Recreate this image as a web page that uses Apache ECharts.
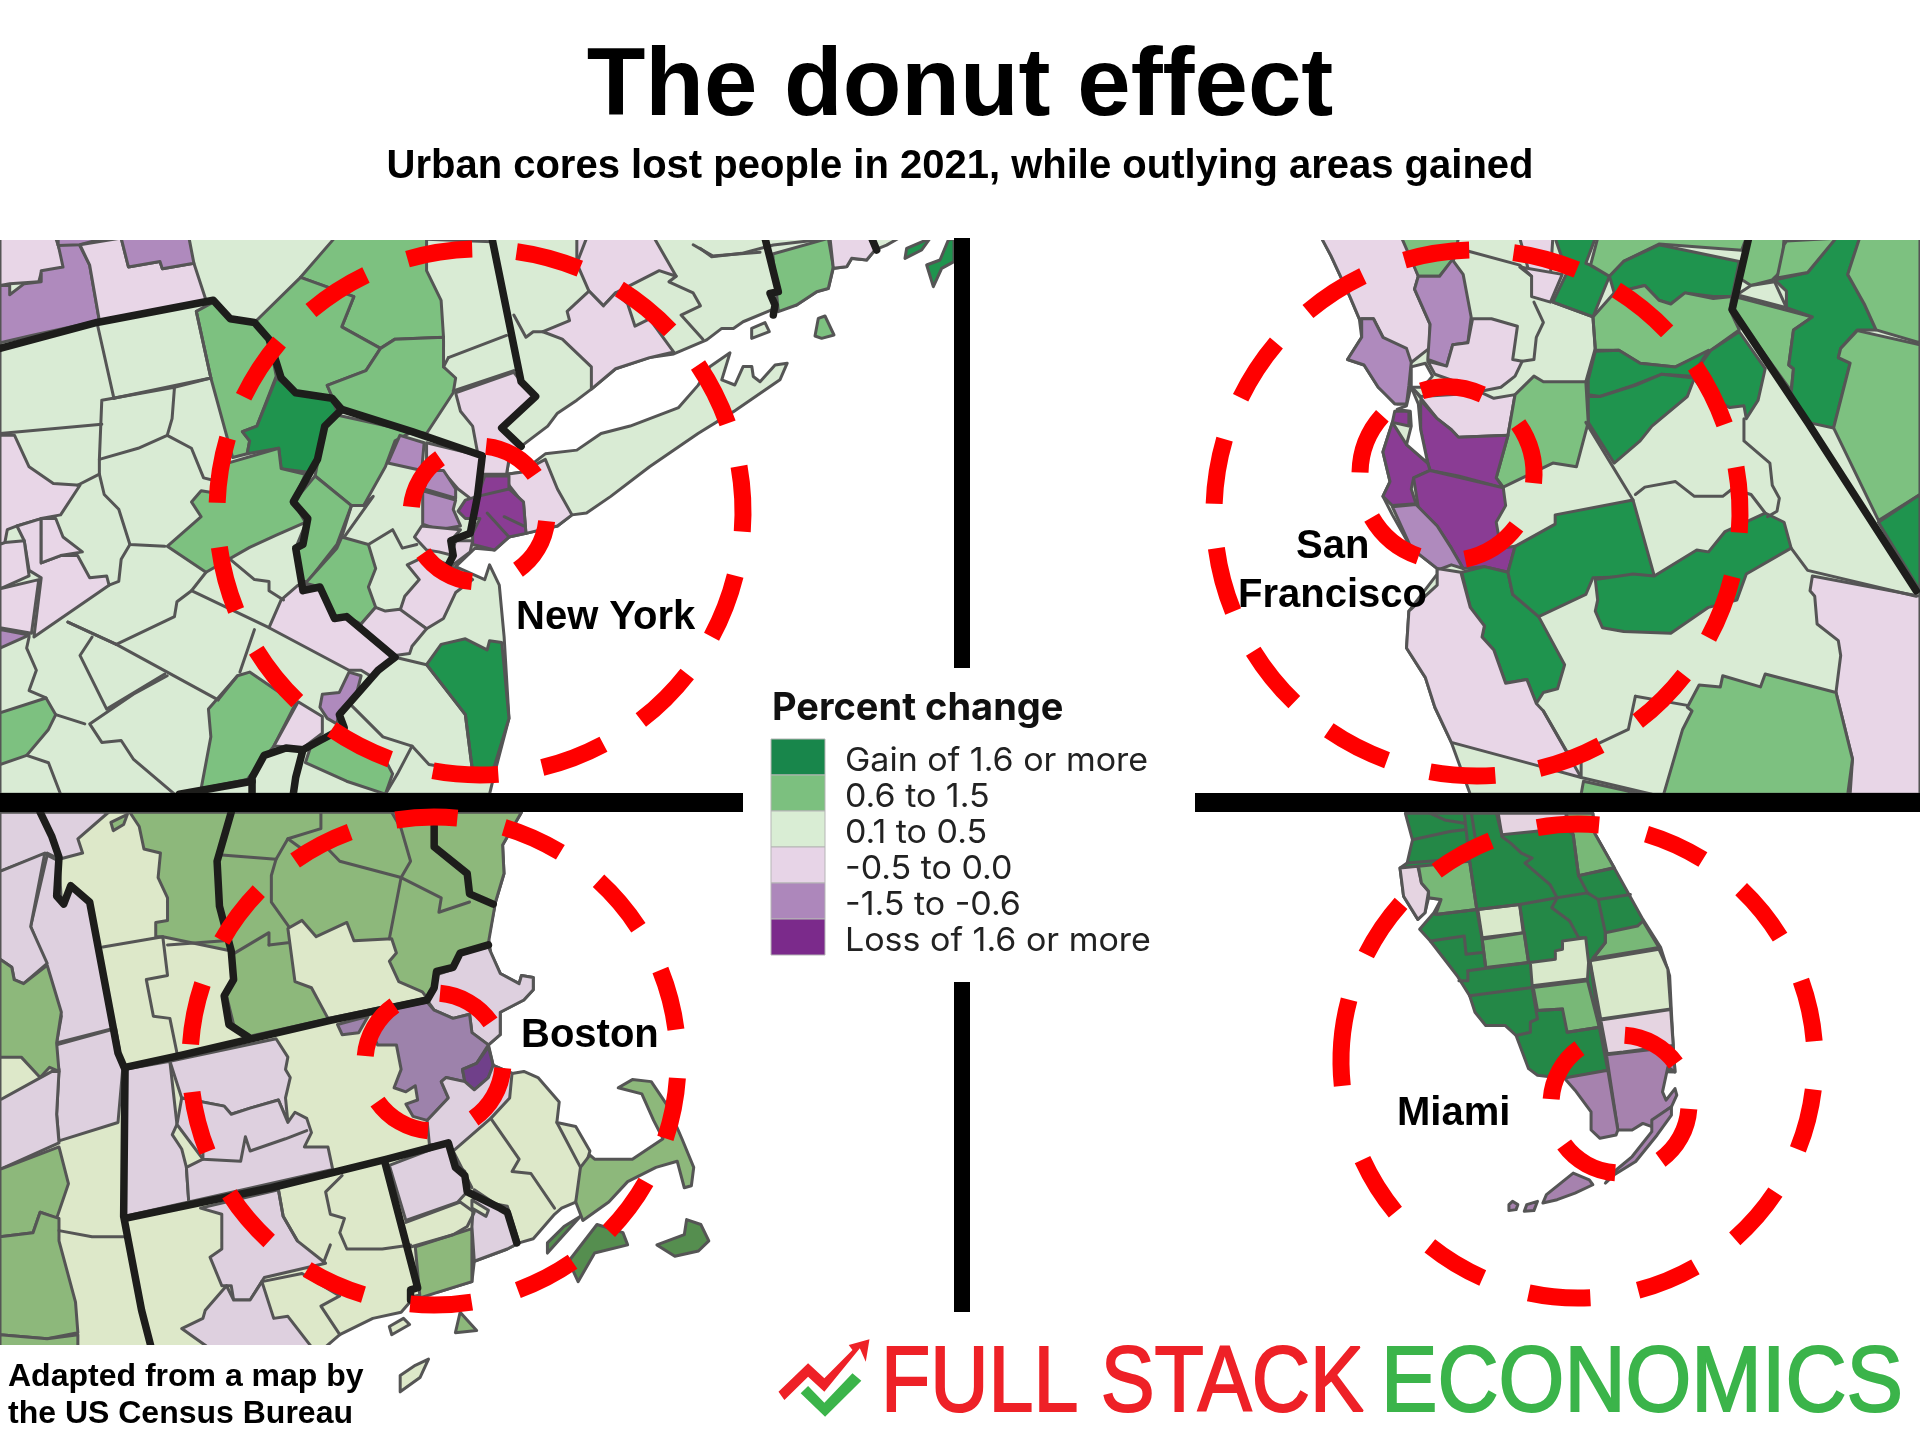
<!DOCTYPE html>
<html>
<head>
	<meta charset="utf-8">
	<title>The donut effect</title>
	<style type="text/css">
		html, body { margin: 0; padding: 0; background: #fff; }
		#chart { width: 1920px; height: 1440px; }
	</style>
</head>
<body>
	<div id="chart"></div>
	<script src="https://cdn.jsdelivr.net/npm/echarts@6/dist/echarts.min.js"></script>
	<script type="text/javascript">
		// legend classes, index is the class used by the county lists below
		var legendLabels = ['Gain of 1.6 or more', '0.6 to 1.5', '0.1 to 0.5', '-0.5 to 0.0', '-1.5 to -0.6', 'Loss of 1.6 or more'];
		var legendColors = ['#18864b', '#7cc07f', '#d9edd4', '#e7d4e7', '#ad87bb', '#7b2a8b'];

		// the map pieces are tinted a bit differently in each panel. class 6 is water
		var nyColors = ['#1f944e', '#7dc180', '#d9ebd4', '#e8d6e7', '#af8abd', '#8a3c94', '#ffffff'];
		var bosColors = ['#558e4f', '#8db87b', '#dde8c9', '#ded0df', '#9d82ab', '#70408a', '#ffffff'];
		var miaColors = ['#248847', '#78b877', '#d9e9cb', '#e5d4e1', '#a682ae', '#8a3c94', '#ffffff'];

		// counties: [class, [x,y, x,y, ...]]
		var nyLand = [[2, [0,22, 1853,23, 1829,41, 1805,54, 1788,81, 1757,77, 1747,99, 1719,104, 1709,158, 1685,167, 1643,203, 1592,216, 1533,248, 1513,266, 1489,266, 1458,297, 1390,335, 1340,345, 1270,375, 1220,430, 1190,460, 1150,495, 1130,530, 1100,560, 1075,585, 1050,620, 1045,660, 1075,655, 1125,605, 1190,595, 1240,550, 1300,530, 1400,480, 1440,420, 1465,369, 1506,332, 1489,405, 1516,419, 1533,369, 1551,369, 1554,396, 1568,410, 1599,365, 1624,360, 1609,405, 1513,491, 1440,550, 1340,640, 1260,720, 1210,765, 1180,770, 1150,800, 1085,820, 1050,830, 1020,865, 980,860, 940,910, 1000,945, 1010,905, 1030,960, 1040,1100, 1050,1320, 1020,1470, 1010,1525, 0,1525]]];
		var nyCounties = [
			[3, [0,22, 115,22, 135,100, 85,115, 80,140, 20,145, 0,150]],
			[4, [0,150, 20,150, 20,175, 50,145, 85,140, 85,110, 130,100, 120,40, 160,30, 185,95, 205,245, 65,285, 0,305]],
			[4, [120,22, 215,22, 165,40, 120,42]],
			[3, [165,40, 250,22, 265,100, 330,85, 335,105, 400,90, 425,190, 205,245, 185,95]],
			[4, [250,22, 390,22, 400,90, 335,105, 330,85, 265,100]],
			[1, [405,220, 440,195, 475,240, 525,250, 555,295, 570,395, 530,530, 500,545, 515,570, 510,605, 480,615, 435,400]],
			[1, [690,22, 880,22, 880,110, 910,190, 915,290, 815,295, 785,320, 705,262, 730,180, 620,128]],
			[1, [620,128, 730,180, 705,262, 785,320, 755,380, 675,420, 685,450, 610,440, 580,400, 555,295, 525,250]],
			[1, [785,320, 815,295, 915,290, 915,370, 940,400, 935,440, 880,550, 850,545, 705,485, 685,450, 675,420, 755,380]],
			[0, [570,400, 610,440, 685,455, 695,490, 670,530, 655,620, 635,655, 580,645, 575,590, 510,605, 515,570, 500,545, 530,530]],
			[1, [695,500, 850,545, 815,570, 795,640, 750,745, 725,745, 650,665, 670,530]],
			[1, [650,665, 725,745, 695,850, 635,950, 625,950, 610,860, 635,780, 605,735]],
			[1, [470,630, 575,590, 580,645, 630,660, 605,735, 630,790, 570,825, 515,858, 425,925, 345,855, 415,775, 395,735, 415,705, 440,710, 455,640]],
			[1, [705,830, 760,850, 775,915, 760,965, 775,1020, 745,1065, 715,1045, 690,1050, 660,965, 630,955, 695,860]],
			[4, [825,555, 875,575, 870,650, 800,630]],
			[3, [940,440, 1060,385, 1075,410, 1105,450, 1035,535, 1075,585, 1050,620, 1045,660, 995,660, 995,610, 985,600, 975,530, 950,490]],
			[3, [880,575, 995,612, 990,700, 975,730, 945,700, 915,655, 880,640]],
			[3, [1045,660, 1075,655, 1125,620, 1150,700, 1180,770, 1150,800, 1085,820, 1080,740, 1050,690]],
			[5, [1000,665, 1050,665, 1050,700, 1080,735, 1085,820, 1050,830, 1020,865, 975,850, 975,820, 990,780, 960,780, 945,760, 960,730, 985,720]],
			[4, [885,650, 915,650, 940,700, 940,725, 875,700]],
			[4, [872,705, 940,730, 935,755, 950,800, 905,810, 872,795]],
			[3, [870,800, 950,810, 930,840, 935,880, 905,870, 880,865, 855,830]],
			[3, [940,840, 975,840, 970,870, 935,905, 930,880]],
			[3, [840,905, 880,880, 925,905, 975,945, 940,980, 915,1050, 880,1078, 825,1030, 835,990, 865,945]],
			[3, [745,1065, 775,1020, 795,1030, 825,1025, 880,1078, 850,1125, 845,1145, 815,1150, 745,1075]],
			[0, [910,1120, 960,1105, 1005,1135, 1010,1110, 1035,1115, 1040,1180, 1050,1320, 1015,1470, 975,1465, 960,1310, 880,1175]],
			[1, [430,1295, 490,1205, 515,1195, 610,1280, 565,1395, 510,1485, 415,1510, 435,1370]],
			[3, [615,1275, 665,1315, 665,1360, 625,1400, 565,1395]],
			[4, [720,1195, 745,1205, 735,1255, 700,1300, 695,1335, 675,1320, 660,1290, 665,1255, 700,1250]],
			[1, [640,1400, 665,1380, 700,1350, 790,1420, 810,1470, 795,1525, 715,1490, 630,1440]],
			[3, [555,1075, 580,1000, 615,960, 660,965, 690,1050, 715,1045, 815,1155, 770,1210, 745,1190, 720,1190]],
			[3, [0,555, 30,555, 60,640, 110,685, 165,690, 125,770, 85,780, 35,800, 15,810, 10,845, 0,850]],
			[3, [35,800, 85,780, 85,900, 125,880, 160,880, 185,940, 220,935, 225,960, 70,1100, 85,940, 60,920, 50,840]],
			[3, [85,780, 115,780, 130,830, 170,870, 125,880, 85,900]],
			[3, [0,850, 10,845, 50,840, 60,935, 0,970]],
			[3, [0,970, 80,945, 65,1090, 0,1075]],
			[4, [0,1080, 60,1095, 0,1130]],
			[1, [0,1305, 95,1265, 115,1310, 100,1350, 55,1420, 0,1445]],
			[3, [1190,22, 1350,22, 1395,125, 1360,110, 1270,170, 1245,205, 1215,165, 1190,90]],
			[3, [1215,165, 1245,205, 1270,170, 1295,200, 1310,260, 1340,240, 1390,330, 1340,345, 1270,375, 1220,430, 1220,370, 1160,295, 1120,275, 1175,245, 1170,220]]
		];
		var nyLines = [
			[200,250, 235,455], [405,220, 435,400, 235,455], [0,550, 210,525],
			[210,460, 360,425, 355,510, 345,555, 285,590, 205,620, 210,460], [360,425, 435,400],
			[345,555, 395,590, 420,670, 450,680], [205,620, 205,660, 160,690],
			[205,660, 215,715, 245,755, 268,850, 340,855], [268,850, 250,890, 245,950, 225,960],
			[140,1060, 240,1120, 360,1045, 365,1005, 395,975, 425,925], [395,975, 555,1075],
			[470,885, 525,945, 555,950, 555,975, 585,1000], [240,1120, 450,1270], [140,1060, 240,1120],
			[345,1205, 275,1255, 185,1335, 210,1385, 250,1380, 275,1430, 360,1525],
			[190,1100, 165,1150, 220,1295, 340,1200], [60,1100, 55,1130, 75,1190, 60,1245, 95,1265],
			[115,1310, 175,1335], [55,1420, 100,1440, 125,1525], [525,1080, 495,1195], [450,1270, 490,1205],
			[760,850, 810,810, 830,860, 860,850], [725,745, 705,830], [750,745, 770,720, 710,830],
			[815,1155, 880,1175], [880,1175, 960,1310, 975,1465], [850,1395, 820,1470, 795,1525],
			[725,1285, 790,1370, 850,1395, 885,1445, 975,1465], [925,345, 1045,285], [935,435, 1060,380],
			[925,345, 915,370], [880,25, 1015,32], [1060,230, 1085,290, 1100,275, 1120,275], [1210,22, 1190,90],
			[1395,125, 1380,140, 1430,170, 1445,205, 1405,230, 1450,295], [1430,40, 1470,70, 1568,60],
			[985,720, 1050,700], [1005,765, 1050,830], [1040,775, 1080,800]
		];
		var nyStates = [
			[0,320, 200,250, 440,190, 475,240, 525,250, 555,295, 580,400, 610,440, 685,455, 705,485, 850,545, 995,610, 985,720, 970,820, 930,840, 935,880, 925,905],
			[1015,22, 1075,410, 1105,450, 1035,535, 1075,585],
			[705,485, 670,530, 655,620, 605,735, 635,780, 625,850, 610,860, 625,975, 660,965, 690,1050, 715,1045, 815,1155, 780,1190, 700,1310, 710,1345, 660,1380, 625,1405, 610,1480, 605,1525],
			[625,1405, 590,1400, 545,1420, 520,1480, 520,1525], [520,1490, 370,1525]
		];

		// eastern end of the New York panel, read at another zoom
		var nyEastCounties = [
			[1, [218,72, 385,25, 400,110, 385,175, 350,185, 290,225, 235,245]],
			[3, [390,24, 510,24, 525,60, 500,90, 455,85, 440,110, 400,115]],
			[2, [155,295, 195,278, 208,305, 155,325]],
			[1, [355,265, 375,258, 402,315, 365,325, 345,318]],
			[0, [615,85, 620,55, 690,25, 665,60]],
			[0, [680,105, 720,90, 745,30, 762,24, 762,95, 725,115, 700,170]]
		];
		var nyEastLines = [[0,55, 35,80, 125,70, 220,45, 350,30]];
		var nyEastStates = [[195,24, 235,185, 210,190, 225,225, 220,255], [515,24, 530,60]];

		var sfLand = [[2, [300,22, 1568,22, 1568,1525, 615,1525, 575,1385, 540,1290, 520,1210, 480,1130, 485,1030, 545,930, 545,915, 490,860, 450,770, 430,720, 445,680, 430,600, 450,520, 490,470, 460,470, 420,425, 390,365, 355,350, 385,290, 380,240, 360,180, 320,70]]];
		var sfCounties = [
			[3, [300,22, 475,22, 505,125, 497,160, 530,255, 528,320, 490,358, 430,290, 410,240, 380,240, 360,180, 320,70]],
			[1, [470,22, 590,22, 580,80, 550,125, 505,125]],
			[4, [577,80, 600,120, 617,235, 610,305, 578,310, 565,368, 525,350, 530,255, 497,160, 505,125, 550,125]],
			[4, [385,240, 410,240, 430,290, 480,320, 490,358, 485,420, 480,470, 455,470, 420,425, 390,365, 355,350, 385,290]],
			[3, [620,240, 660,240, 715,260, 705,350, 725,355, 710,395, 680,425, 640,435, 540,390, 525,355, 565,368, 578,310, 610,305]],
			[3, [495,430, 510,450, 640,440, 665,455, 710,445, 695,555, 590,560, 575,540, 545,510]],
			[3, [720,22, 790,22, 785,120, 740,115]],
			[3, [720,100, 745,125, 745,180, 785,195, 810,120]],
			[0, [795,22, 880,22, 860,90, 870,95, 910,125, 875,235, 790,195, 820,115]],
			[1, [885,22, 1200,22, 1190,55, 1015,38, 940,85, 910,125, 870,95]],
			[0, [910,125, 940,85, 1015,40, 1185,85, 1170,180, 1130,180, 1070,170, 1040,200, 1015,190, 985,150, 920,170]],
			[1, [920,170, 985,150, 1015,190, 1040,200, 1070,170, 1130,185, 1170,180, 1165,215, 1185,270, 1125,325, 1050,370, 975,360, 930,325, 880,325, 875,235]],
			[0, [880,328, 930,325, 975,360, 1050,370, 1120,325, 1085,395, 1020,390, 960,420, 890,450, 865,445, 865,405]],
			[0, [865,450, 890,450, 965,420, 1020,390, 1090,400, 1075,450, 1000,530, 975,570, 920,630, 865,520]],
			[0, [1125,325, 1185,275, 1240,375, 1225,460, 1200,510, 1195,475, 1165,480, 1115,445, 1085,395]],
			[1, [1175,180, 1340,235, 1300,270, 1290,365, 1300,375, 1295,435, 1170,215]],
			[1, [710,445, 750,395, 770,410, 860,410, 865,520, 840,640, 790,630, 685,695, 670,670, 695,555]],
			[5, [510,460, 545,510, 575,540, 590,560, 695,555, 670,670, 685,697, 590,665, 530,650, 525,630, 510,540]],
			[5, [455,490, 485,490, 485,530, 450,520]],
			[5, [450,520, 480,580, 525,630, 530,650, 495,670, 490,700, 500,740, 450,745, 430,720, 445,680, 430,600]],
			[5, [495,670, 530,650, 685,697, 690,745, 670,790, 680,860, 710,855, 695,925, 645,910, 600,915, 575,860, 545,800, 505,750]],
			[4, [450,748, 500,742, 545,800, 575,860, 600,915, 575,905, 548,918, 490,860]],
			[0, [597,925, 645,910, 695,925, 705,985, 760,1045, 815,1175, 800,1240, 770,1250, 755,1280, 735,1215, 690,1225, 665,1135, 640,1100, 645,1070, 615,1020]],
			[3, [545,915, 595,925, 615,1020, 645,1070, 640,1100, 665,1135, 690,1225, 735,1215, 755,1280, 770,1300, 850,1480, 750,1445, 575,1385, 540,1290, 520,1210, 480,1130, 485,1030, 545,960]],
			[0, [695,925, 710,855, 795,795, 795,770, 960,730, 1005,935, 875,940, 860,985, 760,1045, 705,985]],
			[0, [880,945, 960,930, 1005,935, 1095,865, 1120,870, 1155,815, 1240,765, 1280,790, 1295,860, 1200,930, 1180,1000, 1120,1020, 1040,1090, 940,1085, 895,1075, 880,1030, 885,1000]],
			[0, [1390,22, 1440,22, 1415,120, 1450,200, 1475,270, 1435,270, 1400,320, 1395,345, 1420,360, 1385,535, 1330,520, 1295,440, 1300,375, 1290,365, 1300,270, 1340,235, 1285,210, 1285,165, 1260,135, 1330,115]],
			[1, [1205,22, 1280,22, 1275,110, 1255,135, 1210,150, 1185,130]],
			[1, [1285,30, 1390,22, 1330,115, 1265,130, 1280,40]],
			[2, [1210,150, 1260,140, 1285,210, 1180,175]],
			[1, [1440,22, 1568,22, 1568,305, 1475,270, 1450,200, 1415,120]],
			[1, [1435,272, 1568,310, 1568,715, 1480,785, 1385,535, 1420,360, 1395,345, 1400,320]],
			[0, [1568,715, 1568,975, 1480,790]],
			[3, [1340,935, 1568,990, 1568,1525, 1420,1525, 1425,1430, 1390,1250, 1400,1150, 1395,1110, 1350,1065, 1345,990, 1335,975]],
			[1, [1100,1230, 1145,1235, 1150,1205, 1230,1235, 1240,1200, 1390,1250, 1425,1430, 1415,1525, 1025,1525, 1065,1350, 1085,1300, 1075,1290]],
			[1, [855,1490, 980,1525, 850,1525]],
			[6, [490,370, 520,360, 535,395, 515,425, 490,425, 505,470, 510,540, 525,630, 480,580, 490,530, 488,490, 460,485, 480,475, 490,420]]
		];
		var sfLines = [
			[860,520, 960,730], [965,715, 985,695, 1050,680, 1090,720, 1150,720, 1170,700, 1210,715, 1240,765],
			[1195,510, 1195,570, 1250,630, 1255,690, 1270,725, 1265,760, 1245,775], [1295,860, 1330,920, 1560,990],
			[965,1260, 1075,1285], [965,1260, 950,1350, 850,1410, 820,1410, 770,1300], [850,1410, 850,1480, 1000,1525],
			[590,50, 720,95, 745,125], [750,195, 770,250, 755,290, 750,350, 725,355],
			[790,195, 875,235, 880,320, 860,410]
		];
		var sfStates = [[1205,22, 1170,215, 1330,520, 1560,975]];

		var bosLand = [[2, [0,30, 1105,30, 1065,110, 1068,180, 1050,250, 1035,340, 1040,375, 1060,425, 1100,450, 1105,430, 1130,435, 1130,465, 1110,490, 1060,520, 1060,575, 1035,600, 1045,650, 1085,670, 1110,665, 1140,680, 1185,740, 1180,790, 1220,800, 1250,860, 1220,985, 1190,1000, 1175,1015, 1130,1075, 1100,1085, 1075,1100, 1005,1130, 1000,1180, 930,1205, 880,1215, 850,1255, 790,1270, 720,1310, 690,1340, 0,1340]]];
		var bosCounties = [
			[3, [0,30, 230,30, 165,95, 175,130, 125,145, 100,130, 0,175]],
			[3, [100,135, 125,150, 130,250, 150,210, 190,250, 240,560, 120,595, 130,530, 100,410, 65,310]],
			[3, [120,600, 245,560, 260,660, 250,790, 125,835, 120,770, 125,660, 110,600]],
			[3, [0,175, 95,130, 65,310, 100,400, 50,450, 30,440, 25,410, 0,390]],
			[1, [0,390, 25,410, 30,440, 50,450, 100,405, 130,520, 120,595, 125,665, 105,655, 85,680, 45,630, 0,630]],
			[3, [0,735, 110,665, 125,665, 120,770, 125,840, 0,905]],
			[1, [0,905, 125,850, 145,940, 120,1025, 85,1010, 70,1060, 0,1070]],
			[1, [0,1070, 70,1060, 85,1010, 125,1025, 125,1080, 160,1230, 165,1305, 100,1320, 0,1310]],
			[1, [0,1310, 100,1320, 165,1310, 165,1340, 0,1340]],
			[1, [275,30, 1105,30, 1065,110, 1068,180, 1050,250, 1035,350, 975,375, 960,410, 925,420, 920,460, 905,485, 700,535, 525,580, 495,550, 480,480, 495,440, 490,370, 345,335, 330,335, 330,300, 355,295, 355,240, 335,190, 340,130, 305,120, 295,65]],
			[1, [235,55, 270,35, 262,60, 240,75]],
			[2, [610,315, 640,295, 670,335, 735,300, 750,345, 830,340, 840,375, 825,395, 845,445, 895,470, 905,485, 695,535, 660,460, 625,445]],
			[3, [920,430, 960,415, 975,375, 1035,360, 1060,425, 1100,450, 1105,430, 1130,435, 1130,465, 1110,490, 1060,520, 1060,575, 1035,600, 1000,570, 995,525, 960,535, 920,515, 905,490, 920,460]],
			[3, [265,660, 360,640, 375,795, 365,820, 385,855, 395,900, 400,985, 265,1020]],
			[3, [360,640, 585,585, 610,630, 605,660, 615,680, 605,730, 610,790, 590,735, 530,755, 490,770, 475,750, 385,730]],
			[3, [385,730, 475,750, 490,770, 530,755, 590,735, 610,790, 625,765, 650,780, 660,815, 645,850, 695,850, 705,905, 400,985, 395,900, 430,880, 375,795]],
			[4, [715,550, 780,530, 760,570, 725,575]],
			[4, [840,510, 905,495, 920,515, 960,535, 995,525, 1000,570, 1035,600, 1010,645, 980,660, 985,690, 945,680, 935,690, 950,730, 905,785, 875,775, 860,745, 885,735, 880,700, 860,715, 835,705, 850,660, 840,600, 800,600, 790,575, 810,530]],
			[5, [1035,605, 1045,650, 1035,680, 1005,710, 985,690, 980,660, 1010,645]],
			[3, [935,690, 945,680, 985,690, 1005,710, 1035,680, 1045,650, 1085,670, 1080,730, 1040,780, 960,860, 950,840, 910,845, 905,785, 950,730]],
			[1, [1250,870, 1260,880, 1340,880, 1405,830, 1385,785, 1360,720, 1310,705, 1340,685, 1380,690, 1415,750, 1445,830, 1470,900, 1465,945, 1450,950, 1435,885, 1390,900, 1330,935, 1290,985, 1235,1030, 1220,985, 1230,900]],
			[0, [1265,1040, 1320,1060, 1330,1090, 1260,1110, 1225,1180, 1205,1130]],
			[0, [1455,1028, 1485,1040, 1502,1080, 1480,1105, 1430,1118, 1392,1090, 1450,1065]],
			[0, [1230,1020, 1160,1110, 1160,1085, 1195,1045]],
			[1, [975,1255, 1010,1300, 965,1305]],
			[2, [855,1270, 868,1285, 830,1310, 825,1290]],
			[3, [825,895, 950,840, 965,890, 985,910, 990,960, 970,985, 860,1030]],
			[1, [880,1095, 1000,1050, 1000,1130, 1000,1180, 930,1205, 890,1220]],
			[3, [1000,1045, 1005,955, 1050,990, 1075,995, 1100,1085, 1075,1100, 1005,1130]],
			[2, [1000,980, 1035,1005, 1030,1020, 1000,1000]],
			[3, [425,1000, 590,955, 600,1020, 630,1080, 690,1135, 560,1170, 530,1225, 495,1225, 490,1190, 470,1190, 445,1120, 470,1100, 470,1015]],
			[3, [385,1295, 430,1270, 435,1250, 480,1190, 495,1225, 530,1225, 555,1180, 580,1270, 610,1265, 660,1340, 440,1340]]
		];
		var bosLines = [
			[470,135, 585,145, 610,95, 640,120, 695,120, 720,150, 850,190, 870,150, 850,70, 830,30],
			[585,145, 575,185, 575,250, 612,310], [850,190, 935,240, 930,275, 995,250], [850,190, 825,340],
			[570,355, 570,325, 490,380], [610,350, 570,355], [680,30, 680,70, 610,95],
			[218,360, 345,335, 355,430, 310,440, 325,530, 360,535, 375,620], [355,355, 475,345],
			[430,845, 430,880, 510,885, 520,825, 530,860, 605,830, 650,810],
			[1040,780, 1100,880, 1085,910, 1125,915, 1175,1000], [1230,900, 1180,790],
			[960,860, 1000,950], [860,1035, 975,985, 1005,1010, 990,1045, 960,1065, 870,1095],
			[590,955, 600,1020, 630,1080], [725,920, 690,960, 700,1015, 730,1025, 720,1060, 735,1100, 810,1100, 870,1090],
			[700,1090, 685,1135], [555,1180, 640,1160, 720,1215, 680,1240, 720,1310], [125,1055, 195,1070, 262,1070]
		];
		var bosStates = [
			[85,30, 110,90, 125,140, 120,235, 135,255, 150,210, 190,250, 250,620, 265,660, 262,1020, 300,1250, 320,1340],
			[265,655, 385,625, 700,540, 905,490, 920,460, 925,420, 960,410, 975,375, 1035,355],
			[490,30, 460,150, 465,260, 490,370, 495,440, 475,480, 485,550, 525,580],
			[920,30, 920,115, 990,180, 995,230, 1045,255],
			[265,1025, 575,950, 820,880, 950,840, 965,900, 985,920, 990,960, 1060,1000, 1075,1010, 1095,1085],
			[815,885, 885,1195, 870,1200, 870,1225]
		];
		var bosIsland = [[2, [848,1410, 880,1385, 908,1370, 890,1415, 848,1450]]];

		var miaLand = [[0, [295,40, 820,40, 825,100, 880,205, 960,360, 1010,445, 1035,530, 1040,640, 1045,740, 1050,820, 862,815, 740,840, 665,830, 640,810, 605,710, 575,680, 545,680, 520,680, 490,640, 475,590, 440,530, 365,425, 335,390, 375,340, 395,300, 360,295, 350,340, 330,360, 290,290, 280,205, 300,190, 315,120]]];
		var miaCounties = [
			[1, [745,40, 820,40, 825,100, 880,205, 780,228, 765,105]],
			[3, [555,40, 745,40, 745,85, 565,105]],
			[3, [280,205, 330,200, 340,250, 360,275, 350,340, 330,360, 290,290]],
			[1, [332,200, 475,185, 495,330, 380,345, 395,300, 360,295, 360,275, 340,250]],
			[2, [498,330, 615,315, 625,400, 510,415]],
			[1, [510,420, 628,400, 640,490, 520,505]],
			[2, [735,425, 800,415, 808,490, 805,540, 650,560, 645,490, 715,480, 715,455, 735,450]],
			[1, [653,565, 805,545, 838,685, 748,700, 735,630, 665,635]],
			[1, [820,478, 855,430, 855,400, 945,380, 960,365, 1005,445]],
			[2, [812,485, 1005,450, 1030,510, 1038,630, 842,660]],
			[3, [842,663, 1038,632, 1045,740, 905,760, 860,765]],
			[4, [858,768, 1045,745, 1050,820, 1030,805, 1015,880, 1025,905, 1050,870, 1055,890, 1040,925, 990,965, 985,985, 960,975, 930,995, 890,995]],
			[4, [740,838, 862,815, 890,995, 885,1010, 840,1020, 815,995, 815,940, 770,875]],
			[4, [1040,925, 985,965, 985,1000, 930,1075, 880,1120, 855,1155, 880,1130, 940,1090, 1000,1010, 1040,950]],
			[4, [680,1215, 690,1190, 765,1125, 810,1145, 820,1160, 770,1185, 720,1205]],
			[4, [585,1220, 595,1210, 610,1220, 605,1235, 585,1238]],
			[4, [635,1220, 665,1210, 655,1238, 628,1240]]
		];
		var miaLines = [
			[315,120, 420,95, 460,90], [300,190, 475,175], [460,40, 475,185, 495,330, 510,420, 520,505],
			[615,315, 720,295, 805,280, 835,300, 925,285], [380,345, 495,330, 615,315], [365,425, 460,410, 465,465, 510,460],
			[470,515, 640,490], [475,590, 650,565], [650,565, 665,660, 645,670, 645,700, 605,710], [665,635, 735,630],
			[748,700, 838,685, 862,815], [805,280, 780,228, 765,105, 745,85], [780,228, 875,205],
			[835,300, 855,400, 855,430, 820,478], [800,415, 780,415, 755,365, 705,325, 720,295, 700,255, 630,190, 650,175, 620,160, 590,130, 565,110],
			[615,315, 640,490], [565,105, 550,40], [470,515, 470,545, 445,545], [480,40, 490,110], [365,40, 405,60, 460,70], [812,485, 838,685]
		];

		// where each zoomed reading sits on the page
		var panels = [
			{land: nyLand, counties: nyCounties, lines: nyLines, states: nyStates, colors: nyColors, ox: 0, oy: 230, sx: 2.063, sy: 2.703},
			{land: [], counties: nyEastCounties, lines: nyEastLines, states: nyEastStates, colors: nyColors, ox: 700, oy: 230, sx: 3, sy: 3},
			{land: sfLand, counties: sfCounties, lines: sfLines, states: sfStates, colors: nyColors, ox: 1180, oy: 230, sx: 2.119, sy: 2.703},
			{land: bosLand, counties: bosCounties, lines: bosLines, states: bosStates, colors: bosColors, ox: 0, oy: 800, sx: 2.119, sy: 2.45},
			{land: miaLand, counties: miaCounties, lines: miaLines, states: [], colors: miaColors, ox: 1300, oy: 800, sx: 2.8, sy: 3.015}
		];
		var islandPanel = {land: [], counties: bosIsland, lines: [], states: [], colors: bosColors, ox: 0, oy: 800, sx: 2.119, sy: 2.45};

		// dashed circles: centre, radius, first dash angle, angle per dash+gap, dash angle, count, length of the first dash
		var rings = [
			[480, 512, 263, -10, 24, 14.3, 15, 14.3],
			[479, 514, 68, 6, 90, 49, 4, 49],
			[1477, 513, 263, -10, 24, 14.3, 15, 14.3],
			[1447, 474, 87, -35, 72, 41, 5, 41],
			[434, 1061, 244, 4, 25.7, 14.5, 14, 14.5],
			[434, 1062, 69, 5, 90, 50, 4, 50],
			[1578, 1061, 237, 174, 26.7, 15, 13, 21],
			[1620, 1104, 69, 4, 90, 50, 4, 50]
		];

		var bars = [[954, 238, 16, 430], [954, 982, 16, 330], [0, 793, 743, 19], [1195, 793, 725, 19]];
		// white strips that crop the map edges, the way the panels are cut in the picture
		var masks = [[0, 0, 1920, 240], [0, 1345, 640, 95]];

		var notes = [
			{text: 'New York', x: 516, y: 598, size: 40},
			{text: 'San', x: 1296, y: 527, size: 40},
			{text: 'Francisco', x: 1238, y: 576, size: 40},
			{text: 'Boston', x: 521, y: 1016, size: 40},
			{text: 'Miami', x: 1397, y: 1094, size: 40},
			{text: 'Adapted from a map by', x: 8, y: 1361, size: 32},
			{text: 'the US Census Bureau', x: 8, y: 1398, size: 32}
		];

		var logoArrowRed = [25,215, 65,130, 87,175, 125,90, 120,75, 148,58, 143,125, 135,85, 87,215, 65,170, 33,240];
		var logoArrowGreen = [55,220, 65,198, 87,248, 125,160, 137,182, 88,290];

		// everything is collected in one list and drawn by a single custom series
		var shapes = [];

		function toPoints(list, p) {
			var pts = [];
			for (var i = 0; i < list.length; i += 2) {
				pts.push([p.ox + list[i] / p.sx, p.oy + list[i + 1] / p.sy]);
			}
			return pts;
		}

		function addPanel(p) {
			p.land.concat(p.counties).forEach(function (c) {
				shapes.push({kind: 'polygon', pts: toPoints(c[1], p), fill: p.colors[c[0]], stroke: '#555555', width: 3});
			});
			p.lines.forEach(function (l) {
				shapes.push({kind: 'polyline', pts: toPoints(l, p), stroke: '#555555', width: 3});
			});
			p.states.forEach(function (l) {
				shapes.push({kind: 'polyline', pts: toPoints(l, p), stroke: '#1d1d1b', width: 7.5});
			});
		}

		panels.forEach(addPanel);

		masks.forEach(function (m) {
			shapes.push({kind: 'rect', x: m[0], y: m[1], w: m[2], h: m[3], fill: '#ffffff'});
		});
		addPanel(islandPanel);

		bars.forEach(function (b) {
			shapes.push({kind: 'rect', x: b[0], y: b[1], w: b[2], h: b[3], fill: '#000000'});
		});

		rings.forEach(function (r) {
			var a = r[3];
			for (var i = 0; i < r[6]; i++) {
				var len = i === 0 ? r[7] : r[5];
				shapes.push({kind: 'arc', cx: r[0], cy: r[1], r: r[2], from: a, to: a + len});
				a += len + (r[4] - r[5]);
			}
		});

		legendColors.forEach(function (c, i) {
			shapes.push({kind: 'rect', x: 771, y: 739 + i * 36, w: 54, h: 36, fill: c, stroke: '#b5b5b5', width: 1});
		});

		var logoPanel = {ox: 760, oy: 1320, sx: 1.352, sy: 3};
		shapes.push({kind: 'polygon', pts: toPoints(logoArrowRed, logoPanel), fill: '#ee2127'});
		shapes.push({kind: 'polygon', pts: toPoints(logoArrowGreen, logoPanel), fill: '#3bb44a'});

		function renderShape(params, api) {
			var s = shapes[api.value(0)];
			if (s.kind === 'rect') {
				var a = api.coord([s.x, s.y]);
				var b = api.coord([s.x + s.w, s.y + s.h]);
				return {type: 'rect', shape: {x: a[0], y: a[1], width: b[0] - a[0], height: b[1] - a[1]}, style: {fill: s.fill, stroke: s.stroke, lineWidth: s.width}};
			}
			if (s.kind === 'arc') {
				var c = api.coord([s.cx, s.cy]);
				return {
					type: 'arc',
					shape: {cx: c[0], cy: c[1], r: api.size([s.r, 0])[0], startAngle: s.from * Math.PI / 180, endAngle: s.to * Math.PI / 180, clockwise: true},
					style: {fill: 'none', stroke: '#ff0000', lineWidth: 17, lineCap: 'butt'}
				};
			}
			var pts = s.pts.map(function (q) { return api.coord(q); });
			return {
				type: s.kind,
				shape: {points: pts},
				style: {fill: s.kind === 'polygon' ? s.fill : 'none', stroke: s.stroke, lineWidth: s.width, lineJoin: 'round', lineCap: 'round'}
			};
		}

		var textItems = [];
		notes.forEach(function (n) {
			textItems.push({type: 'text', z: 100, x: n.x, y: n.y, style: {text: n.text, fill: '#000', font: 'bold ' + n.size + 'px "Liberation Sans"'}});
		});
		textItems.push({type: 'text', z: 100, x: 772, y: 690, style: {text: 'Percent change', fill: '#111', font: 'bold 38px Inter'}});
		legendLabels.forEach(function (t, i) {
			textItems.push({type: 'text', z: 100, x: 845, y: 745 + i * 36, scaleX: 1.03, style: {text: t, fill: '#222', font: '33px Inter'}});
		});
		textItems.push({type: 'text', z: 100, x: 881, y: 1340, scaleX: 0.877, style: {text: 'FULL STACK', fill: '#ee2127', stroke: '#ee2127', lineWidth: 2, font: '92px "Liberation Sans"'}});
		textItems.push({type: 'text', z: 100, x: 1381, y: 1340, scaleX: 0.92, style: {text: 'ECONOMICS', fill: '#3bb44a', stroke: '#3bb44a', lineWidth: 2, font: '92px "Liberation Sans"'}});

		var chart = echarts.init(document.getElementById('chart'), null, {renderer: 'canvas'});
		chart.setOption({
			animation: false,
			backgroundColor: '#ffffff',
			title: {
				text: 'The donut effect',
				subtext: 'Urban cores lost people in 2021, while outlying areas gained',
				left: 'center',
				top: 36,
				itemGap: 10,
				padding: [5, 9, 5, 5],
				textStyle: {fontFamily: 'Liberation Sans', fontWeight: 'bold', fontSize: 96, color: '#000'},
				subtextStyle: {fontFamily: 'Liberation Sans', fontWeight: 'bold', fontSize: 40, color: '#000'}
			},
			grid: {left: 0, right: 0, top: 0, bottom: 0},
			xAxis: {type: 'value', min: 0, max: 1920, show: false},
			yAxis: {type: 'value', min: 0, max: 1440, inverse: true, show: false},
			series: [{
				type: 'custom',
				silent: true,
				clip: false,
				renderItem: renderShape,
				data: shapes.map(function (s, i) { return [i]; })
			}],
			graphic: {elements: textItems}
		});
	</script>
</body>
</html>
